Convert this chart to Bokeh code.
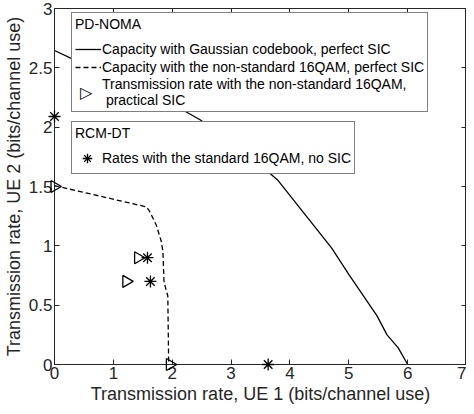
import numpy as np
from bokeh.plotting import figure
from bokeh.models import Range1d, FixedTicker, LinearAxis, Legend, LegendItem
from bokeh.embed import file_html
from bokeh.resources import INLINE

# Data
gauss_x = [0.0, 0.41, 2.09, 2.48, 3.58, 3.80, 4.71, 5.00, 5.48, 5.65, 5.84, 6.00]
gauss_y = [2.646, 2.55, 2.17, 2.06, 1.645, 1.55, 0.98, 0.76, 0.41, 0.25, 0.14, 0.0]

qam_x = [0.0, 1.21, 1.567, 1.62, 1.73, 1.815, 1.842, 1.86, 1.90, 1.925, 1.94]
qam_y = [1.507, 1.369, 1.327, 1.286, 1.174, 1.036, 0.953, 0.704, 0.62, 0.579, 0.0]

tri_x = [0.0, 1.22, 1.42, 1.96]
tri_y = [1.5, 0.70, 0.90, 0.0]

star_x = [0.0, 1.58, 1.63, 3.63]
star_y = [2.09, 0.90, 0.70, 0.0]

x_ticks = [0, 1, 2, 3, 4, 5, 6, 7]
y_ticks = [0, 0.5, 1, 1.5, 2, 2.5, 3]
y_tick_labels = ["0", "0.5", "1", "1.5", "2", "2.5", "3"]

FONT = "Liberation Sans"
AX = "#262626"

p = figure(width=466, height=406, output_backend="svg", toolbar_location=None,
           x_range=Range1d(0, 7), y_range=Range1d(0, 3),
           min_border_top=8, min_border_right=0, min_border_left=0, min_border_bottom=0)
p.grid.visible = False
p.outline_line_color = AX
p.outline_line_width = 1
p.background_fill_color = "white"
p.border_fill_color = "white"

for ax in [p.xaxis[0], p.yaxis[0]]:
    ax.major_tick_in = 5
    ax.major_tick_out = 0
    ax.minor_tick_line_color = None
    ax.axis_line_color = AX
    ax.major_tick_line_color = AX
    ax.major_label_text_font = FONT
    ax.major_label_text_font_size = "17px"
    ax.major_label_text_color = AX
    ax.axis_label_text_font = FONT
    ax.axis_label_text_font_size = "18px"
    ax.axis_label_text_font_style = "normal"
    ax.axis_label_text_color = AX
    ax.major_label_standoff = 2
    ax.axis_label_standoff = 2

p.xaxis[0].ticker = FixedTicker(ticks=x_ticks)
p.yaxis[0].ticker = FixedTicker(ticks=y_ticks)
p.yaxis[0].major_label_overrides = {float(t): s for t, s in zip(y_ticks, y_tick_labels)}
p.xaxis[0].axis_label = "Transmission rate, UE 1 (bits/channel use)"
p.yaxis[0].axis_label = "Transmission rate, UE 2 (bits/channel use)"

for loc, ticks in [("above", x_ticks), ("right", y_ticks)]:
    a = LinearAxis(ticker=FixedTicker(ticks=ticks), major_tick_in=5, major_tick_out=0,
                   minor_tick_line_color=None, major_label_text_font_size="1px",
                   major_label_text_color=None, major_label_standoff=0,
                   axis_line_color=AX, major_tick_line_color=AX)
    p.add_layout(a, loc)

r_gauss = p.line(gauss_x, gauss_y, line_color="black", line_width=1.3)
r_qam = p.line(qam_x, qam_y, line_color="black", line_width=1.3, line_dash="5 3")
r_tri = p.scatter(tri_x, tri_y, marker="triangle", angle=-np.pi / 2, size=12,
                  fill_color=None, line_color="black", line_width=1.3, level="overlay")
r_star = p.scatter(star_x, star_y, marker="asterisk", size=12,
                   line_color="black", line_width=1.3, level="overlay")
# renderer used only to carry the triangle legend entry (its glyph is drawn as text)
r_tri_proxy = p.text(x=[], y=[], text=[])

def style(lg):
    lg.border_line_color = "black"
    lg.border_line_width = 1.2
    lg.background_fill_color = "white"
    lg.background_fill_alpha = 1
    lg.label_text_font = FONT
    lg.label_text_font_size = "14px"
    lg.label_text_color = "black"
    lg.title_text_font = FONT
    lg.title_text_font_size = "14px"
    lg.title_text_font_style = "normal"
    lg.title_text_color = "black"
    lg.padding = 3
    lg.margin = 0
    lg.spacing = 0
    lg.label_height = 18

leg1 = Legend(items=[
    LegendItem(label="Capacity with Gaussian codebook, perfect SIC", renderers=[r_gauss]),
    LegendItem(label="Capacity with the non-standard 16QAM, perfect SIC", renderers=[r_qam]),
    LegendItem(label="Transmission rate with the non-standard 16QAM,\n practical SIC", renderers=[r_tri_proxy]),
], title="PD-NOMA", location=(17, 252))
style(leg1)
leg1.glyph_width = 26
leg1.glyph_height = 16
leg1.label_standoff = 1
leg1.title_standoff = 8

leg2 = Legend(items=[
    LegendItem(label="Rates with the standard 16QAM, no SIC", renderers=[r_star]),
], title="RCM-DT", location=(17, 190))
style(leg2)
leg2.glyph_width = 24
leg2.glyph_height = 24
leg2.label_standoff = 3
leg2.title_standoff = 5

# right-pointing triangle symbol for the third PD-NOMA entry
leg3 = Legend(items=[LegendItem(label="\u25b7", renderers=[r_tri_proxy])],
              location=(26, 262))
leg3.glyph_width = 0
leg3.glyph_height = 18
leg3.label_height = 18
leg3.label_standoff = 0
leg3.padding = 0
leg3.margin = 0
leg3.border_line_color = None
leg3.background_fill_alpha = 0
leg3.label_text_font = "DejaVu Sans"
leg3.label_text_font_size = "16px"
leg3.label_text_color = "black"

p.add_layout(leg1, "center")
p.add_layout(leg2, "center")
p.add_layout(leg3, "center")

open("out.html", "w").write(file_html(p, INLINE))
